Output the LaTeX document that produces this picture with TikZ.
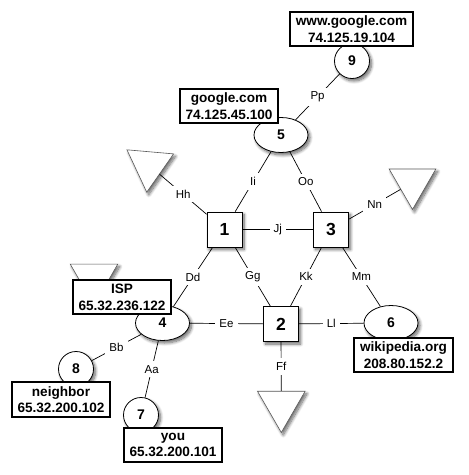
\documentclass[tikz,border=0pt]{standalone}
\usepackage{fontspec}
\setmainfont{Liberation Sans}
\usetikzlibrary{shapes.geometric,shadows.blur}
\begin{document}
\begin{tikzpicture}[x=1pt,y=-1pt,
  shad/.style={blur shadow={shadow xshift=2pt, shadow yshift=-2.5pt, shadow blur radius=3pt, shadow blur steps=10, shadow opacity=60}},
  sq/.style={draw, line width=0.8pt, fill=white, minimum size=35pt, inner sep=0, font=\fontsize{17.5}{20}\selectfont\bfseries, shad},
  el/.style={ellipse, draw, line width=0.8pt, fill=white, minimum width=54pt, minimum height=35pt, inner sep=0, font=\fontsize{14}{16}\selectfont\bfseries, shad},
  ci/.style={circle, draw, line width=0.8pt, fill=white, minimum size=35pt, inner sep=0, font=\fontsize{14}{16}\selectfont\bfseries, shad},
  tri/.style={regular polygon, regular polygon sides=3, draw=black!65, line width=0.6pt, fill=white, minimum size=54pt, inner sep=0, shad},
  info/.style={draw, line width=1.8pt, fill=white, minimum width=98.5pt, minimum height=34.5pt, inner xsep=5.5pt, inner ysep=1pt, align=center, font=\fontsize{13.6}{16.7}\selectfont\bfseries},
  ed/.style={line width=0.7pt},
  elab/.style={fill=white, inner sep=4pt, font=\fontsize{11.5}{13}\selectfont}
]
\useasboundingbox (0,0) rectangle (469,475);

% triangles
\node[tri, shape border rotate=175] (tTL) at (149.1,165.3) {};
\node[tri, shape border rotate=180, minimum size=53.9pt] (tTR) at (412.5,182.5) {};
\node[tri, shape border rotate=180, minimum size=55pt] (tL) at (94,277.8) {};
\node[tri, shape border rotate=180, minimum size=55pt] (tB) at (281.3,405) {};

% routers
\node[sq] (n1) at (224.5,229.5) {1};
\node[sq] (n3) at (331,229.5) {3};
\node[sq] (n2) at (281,324) {2};

% hosts
\node[el] (n5) at (281,135) {5};
\node[el] (n4) at (162.5,323) {4};
\node[el] (n6) at (391,323) {6};
\node[ci] (n9) at (352,61) {9};
\node[ci] (n8) at (76,369) {8};
\node[ci] (n7) at (141,415) {7};

% links
\draw[ed] (n1) -- node[elab]{Hh} (tTL);
\draw[ed] (n1) -- node[elab]{Ii} (n5);
\draw[ed] (n3) -- node[elab]{Oo} (n5);
\draw[ed] (n3) -- node[elab]{Nn} (tTR);
\draw[ed] (n1) -- node[elab]{Jj} (n3);
\draw[ed] (n1) -- node[elab]{Dd} (n4);
\draw[ed] (n1) -- node[elab]{Gg} (n2);
\draw[ed] (n3) -- node[elab]{Kk} (n2);
\draw[ed] (n3) -- node[elab]{Mm} (n6);
\draw[ed] (n4) -- node[elab]{Ee} (n2);
\draw[ed] (n2) -- node[elab]{Ll} (n6);
\draw[ed] (n2) -- node[elab]{Ff} (tB);
\draw[ed] (n4) -- node[elab]{Bb} (n8);
\draw[ed] (n4) -- node[elab]{Aa} (n7);
\draw[ed] (n5) -- node[elab]{Pp} (n9);

% address boxes
\node[info] (bwww) at (351.5,29) {www.google.com\\74.125.19.104};
\node[info] (bg) at (229,106) {google.com\\74.125.45.100};
\node[info] (bisp) at (122,297) {ISP\\65.32.236.122};
\node[info] (bwiki) at (403.5,355) {wikipedia.org\\208.80.152.2};
\node[info] (bnb) at (61,399.5) {neighbor\\65.32.200.102};
\node[info] (byou) at (173,445) {you\\65.32.200.101};
\end{tikzpicture}
\end{document}
